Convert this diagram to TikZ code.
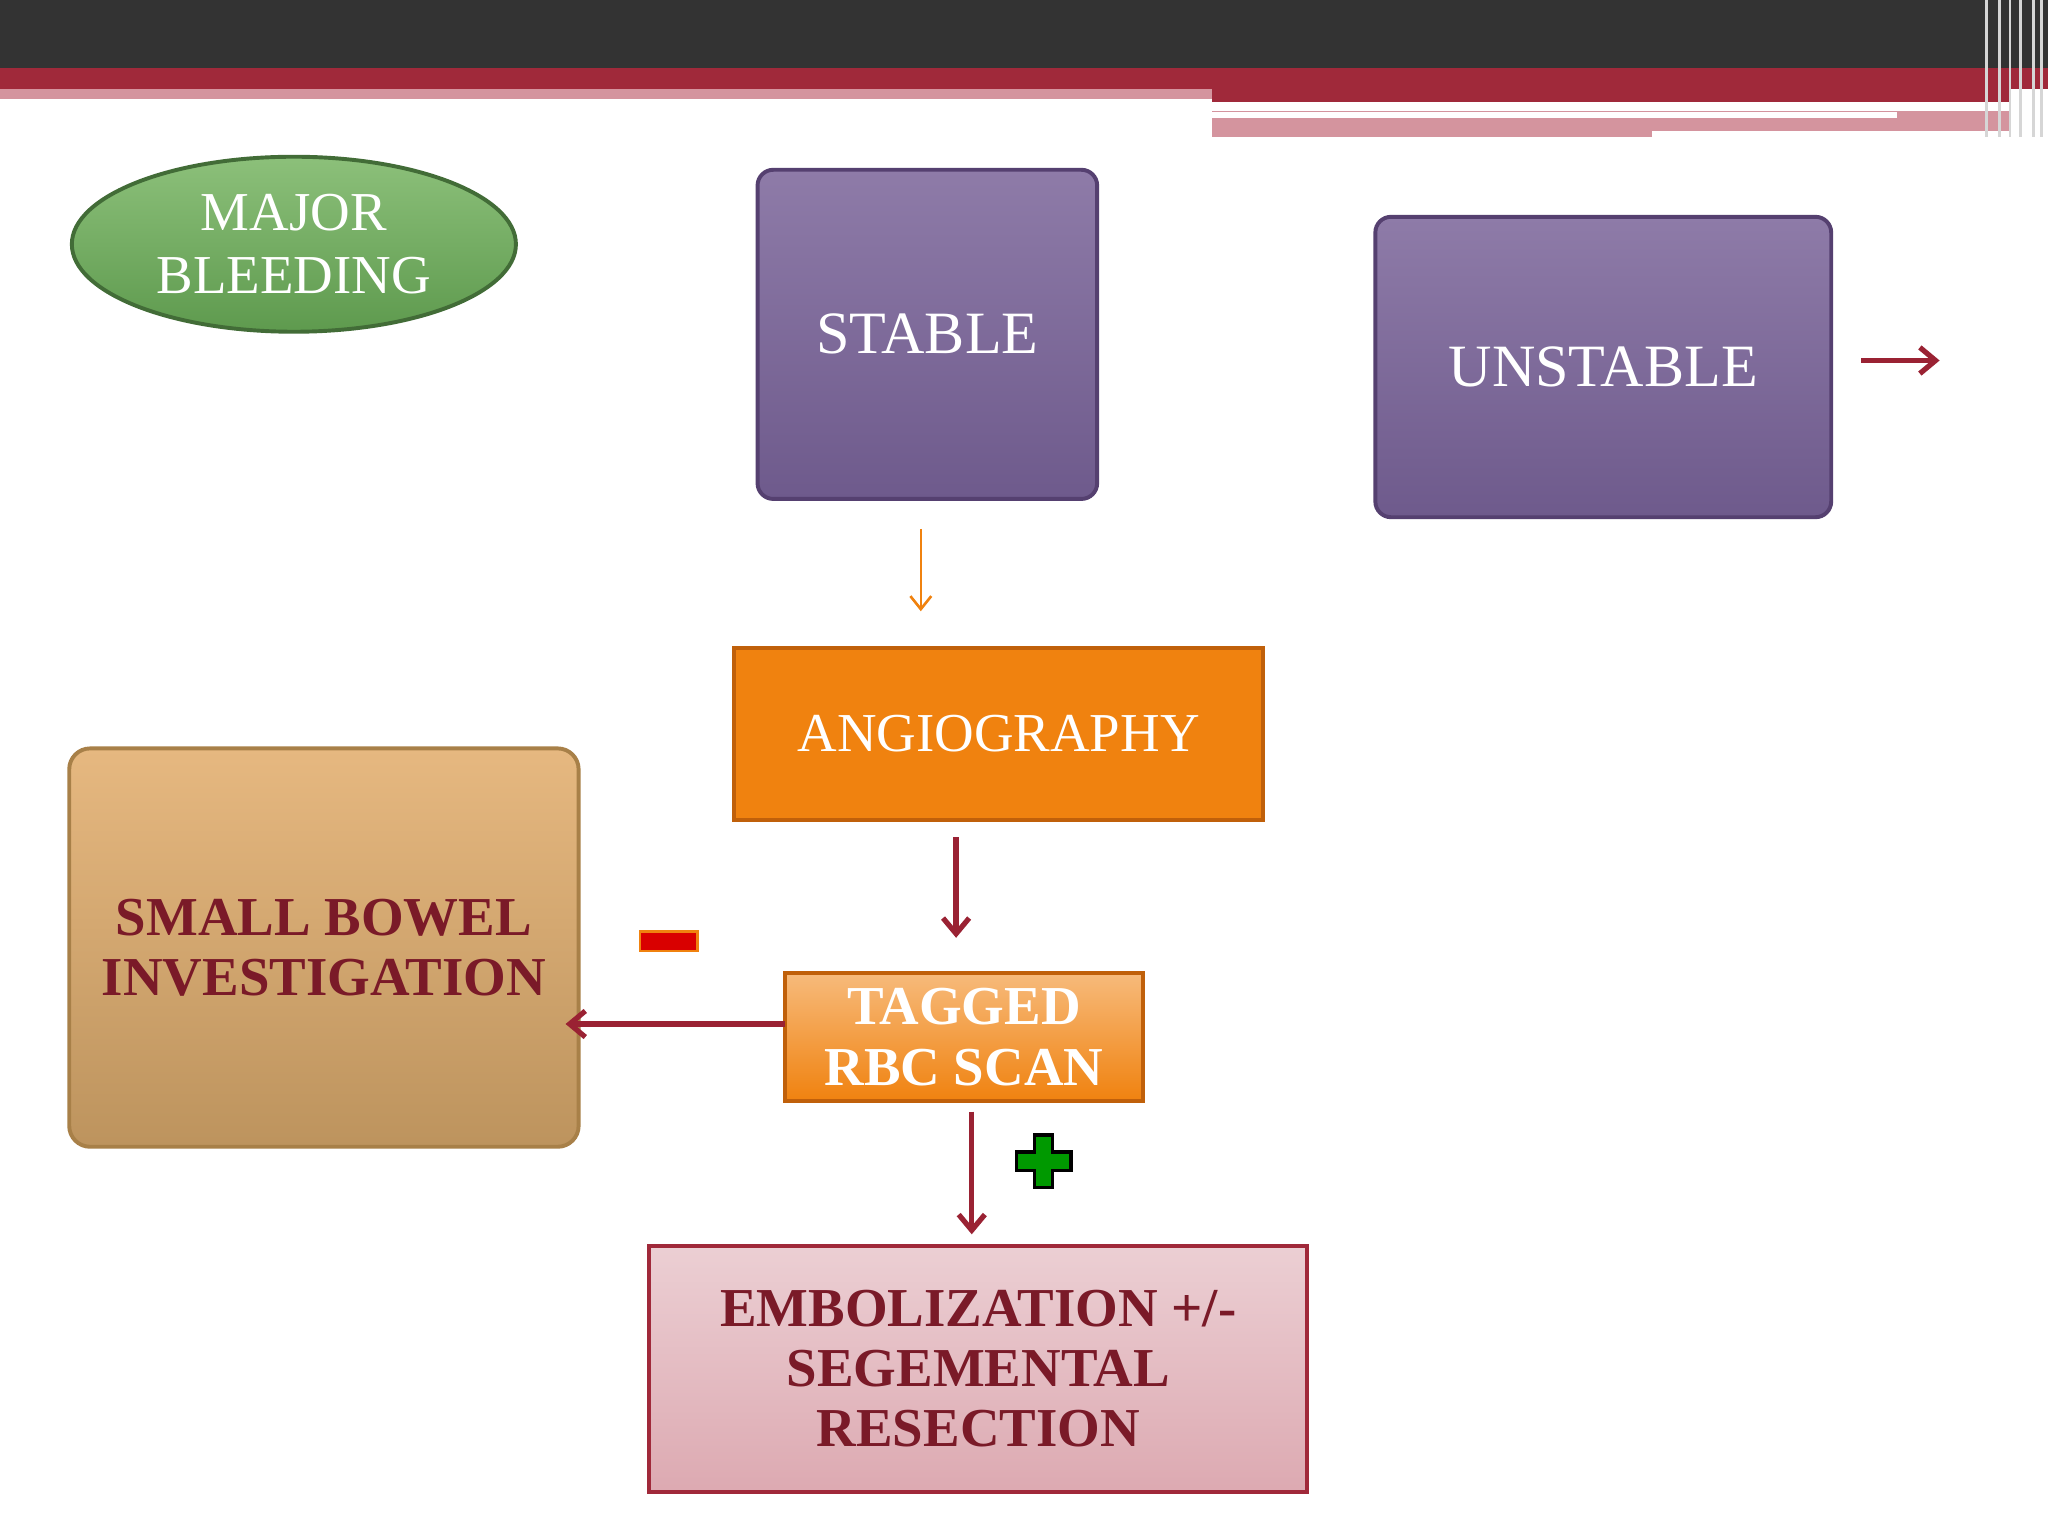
\documentclass[tikz,border=0pt]{standalone}
\usepackage{fontspec}
\setmainfont{Liberation Serif}
\usetikzlibrary{shapes.geometric,arrows.meta}
\definecolor{dk}{HTML}{333333}
\definecolor{rb}{HTML}{A0293A}
\definecolor{pk}{HTML}{D4949E}
\definecolor{pu}{HTML}{6E5A8C}
\definecolor{pul}{HTML}{8E7BA8}
\definecolor{pud}{HTML}{554070}
\definecolor{gr}{HTML}{5E9A4E}
\definecolor{grl}{HTML}{8CC07A}
\definecolor{or}{HTML}{F0820F}
\definecolor{ord}{HTML}{C0600A}
\definecolor{tan}{HTML}{D2A468}
\definecolor{tanl}{HTML}{E6B880}
\definecolor{tand}{HTML}{A88048}
\definecolor{drd}{HTML}{7A1A28}
\definecolor{arr}{HTML}{9A2233}
\tikzset{
 purp/.style={draw=pud,line width=1.5pt,rounded corners=6pt,top color=pul,bottom color=pu,text=white,font=\fontsize{23}{27}\selectfont},
 darr/.style={draw=arr,line width=2pt,-{Straight Barb[length=6pt,width=10pt]}},
}
\begin{document}
\begin{tikzpicture}[x=0.5pt,y=-0.5pt]
\useasboundingbox (0,0) rectangle (1568,1176);
\fill[white] (0,0) rectangle (1568,1176);
% top bars
\fill[dk] (0,0) rectangle (1568,52);
\fill[rb] (0,52) rectangle (1568,68);
\fill[pk] (0,68) rectangle (928,76);
\fill[rb] (928,68) rectangle (1540,78);
\fill[pk] (928,85) rectangle (1540,105);
\fill[white] (928,86) rectangle (1452,90);
\fill[white] (1265,100) rectangle (1540,105);
\foreach \x in {1520,1530,1538,1546,1556,1562} \fill[white!80!dk] (\x,0) rectangle (\x+2,105);
% ellipse
\node[ellipse,draw=gr!70!black,line width=1.5pt,top color=grl,bottom color=gr,minimum width=170pt,minimum height=67pt,inner sep=0pt,text=white,font=\fontsize{21}{24}\selectfont,align=center] (mb) at (225,187) {MAJOR\\BLEEDING};
% purple boxes
\node[purp,minimum width=130pt,minimum height=126pt] (st) at (710,256) {STABLE};
\node[purp,minimum width=174.5pt,minimum height=115pt] (un) at (1227.5,281) {UNSTABLE};
\coordinate (ua) at (1425,276);
\coordinate (ub) at (1485,276);
\draw[darr] (ua) -- (ub);
% angiography
\node[draw=ord,line width=1.5pt,fill=or,minimum width=202.5pt,minimum height=66pt,text=white,font=\fontsize{21}{24}\selectfont] (an) at (764.5,562) {ANGIOGRAPHY};
\coordinate (s1) at (705,405);
\coordinate (s2) at (705,468);
\draw[or,line width=1pt,-{Straight Barb[length=5pt,width=8pt]}] (s1) -- (s2);
% tagged
\node[draw=ord,line width=1.5pt,top color=or!55!white,bottom color=or,minimum width=137pt,minimum height=49pt,inner sep=1pt,text=white,font=\bfseries\fontsize{21}{23}\selectfont,align=center] (tg) at (738,794) {TAGGED\\RBC SCAN};
\coordinate (a1) at (732,641);
\coordinate (a2) at (732,718);
\draw[darr] (a1) -- (a2);
% small bowel
\node[draw=tand,line width=1.5pt,rounded corners=8pt,top color=tanl,bottom color=tan!90!black,minimum width=195pt,minimum height=152.5pt,text=drd,font=\bfseries\fontsize{21}{23}\selectfont,align=center] (sb) at (248,725.5) {SMALL BOWEL\\INVESTIGATION};
\coordinate (tw) at (601,784);
\coordinate (sw) at (433,784);
\draw[darr] (tw) -- (sw);
\fill[red!85!black] (490,713) rectangle (534,728);
\draw[or,line width=1pt] (490,713) rectangle (534,728);
% embolization
\node[draw=rb,line width=1.5pt,top color=pk!45!white,bottom color=pk!80!white,minimum width=252pt,minimum height=94pt,text=drd,font=\bfseries\fontsize{21}{23}\selectfont,align=center] (em) at (749,1048) {EMBOLIZATION +/-\\SEGEMENTAL\\RESECTION};
\coordinate (b1) at (744,851);
\coordinate (b2) at (744,945);
\draw[darr] (b1) -- (b2);
% plus
\fill[green!60!black,draw=black,line width=1.2pt] (792,869)--(806,869)--(806,882)--(820,882)--(820,896)--(806,896)--(806,909)--(792,909)--(792,896)--(778,896)--(778,882)--(792,882)--cycle;
\end{tikzpicture}
\end{document}
